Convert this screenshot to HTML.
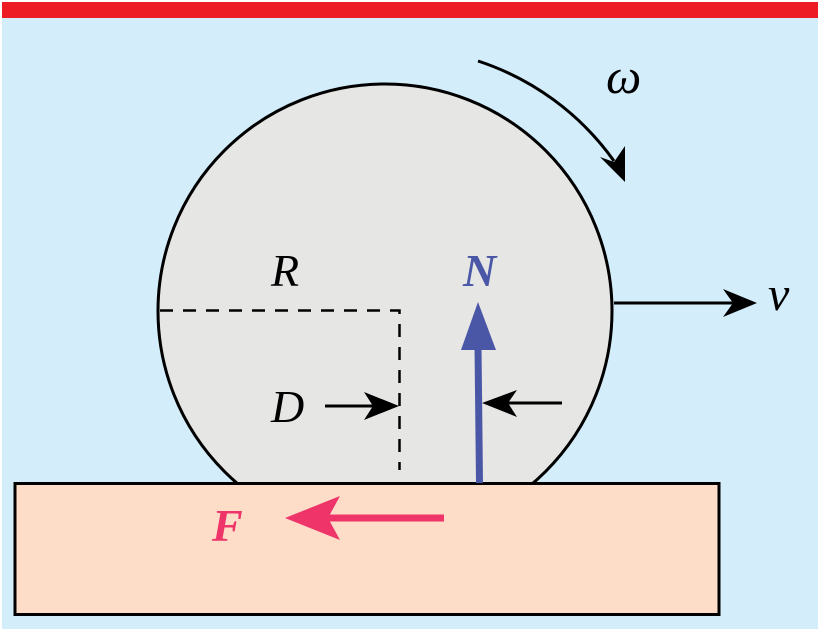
<!DOCTYPE html>
<html>
<head>
<meta charset="utf-8">
<style>
  html, body { margin: 0; padding: 0; background: #ffffff; }
  svg { display: block; }
  .it { font-family: "Liberation Serif", "DejaVu Serif", serif; font-style: italic; }
  .bi { font-family: "Liberation Serif", "DejaVu Serif", serif; font-style: italic; font-weight: bold; }
</style>
</head>
<body>
<svg width="821" height="632" viewBox="0 0 821 632" xmlns="http://www.w3.org/2000/svg">
  <!-- background -->
  <rect x="0" y="0" width="821" height="632" fill="#ffffff"/>
  <rect x="2" y="2" width="816" height="627" fill="#D3EEFA"/>
  <rect x="2" y="2" width="816" height="16" fill="#ED1C24"/>

  <!-- omega arc -->
  <path d="M478,61 A 270 270 0 0 1 614,161" fill="none" stroke="#000" stroke-width="3"/>
  <polygon points="625,182 600,157 614,162 625,146" fill="#000"/>
  <text x="606" y="93" class="it" font-size="50" fill="#000">ω</text>

  <!-- circle -->
  <circle cx="385" cy="311" r="227" fill="#E6E6E5" stroke="#000" stroke-width="3"/>

  <!-- dashed R / D lines -->
  <path d="M160,310.5 H399.5 V470" fill="none" stroke="#000" stroke-width="2.5" stroke-dasharray="13 10"/>
  <text x="271" y="286" class="it" font-size="46" fill="#000">R</text>
  <text x="271" y="422" class="it" font-size="46" fill="#000">D</text>

  <!-- D arrow -->
  <line x1="325" y1="406" x2="378" y2="406" stroke="#000" stroke-width="3"/>
  <polygon points="399,406 364,392 373,406 364,420" fill="#000"/>

  <!-- v arrow -->
  <line x1="614" y1="303" x2="735" y2="303" stroke="#000" stroke-width="3"/>
  <polygon points="757,303 723,289 733,303 723,317" fill="#000"/>
  <text x="768" y="310" class="it" font-size="48" fill="#000">v</text>

  <!-- small arrow pointing at N -->
  <line x1="562" y1="403" x2="505" y2="403" stroke="#000" stroke-width="3"/>
  <polygon points="482,403 517,390 508,403 517,417" fill="#000"/>

  <!-- block -->
  <rect x="15" y="483.5" width="704" height="131" fill="#FDDCC8" stroke="#000" stroke-width="3"/>

  <!-- N arrow -->
  <line x1="479.5" y1="483" x2="478" y2="346" stroke="#4A57A6" stroke-width="7"/>
  <polygon points="478,302 461,350 496,350" fill="#4A57A6"/>
  <text x="463" y="286" class="bi" font-size="46" fill="#4A57A6">N</text>

  <!-- F arrow -->
  <line x1="444" y1="518" x2="325" y2="518" stroke="#EE3469" stroke-width="7"/>
  <polygon points="285,518 340,496 328,518 340,540" fill="#EE3469"/>
  <text x="212" y="541" class="bi" font-size="46" fill="#EE3469">F</text>
</svg>
</body>
</html>
